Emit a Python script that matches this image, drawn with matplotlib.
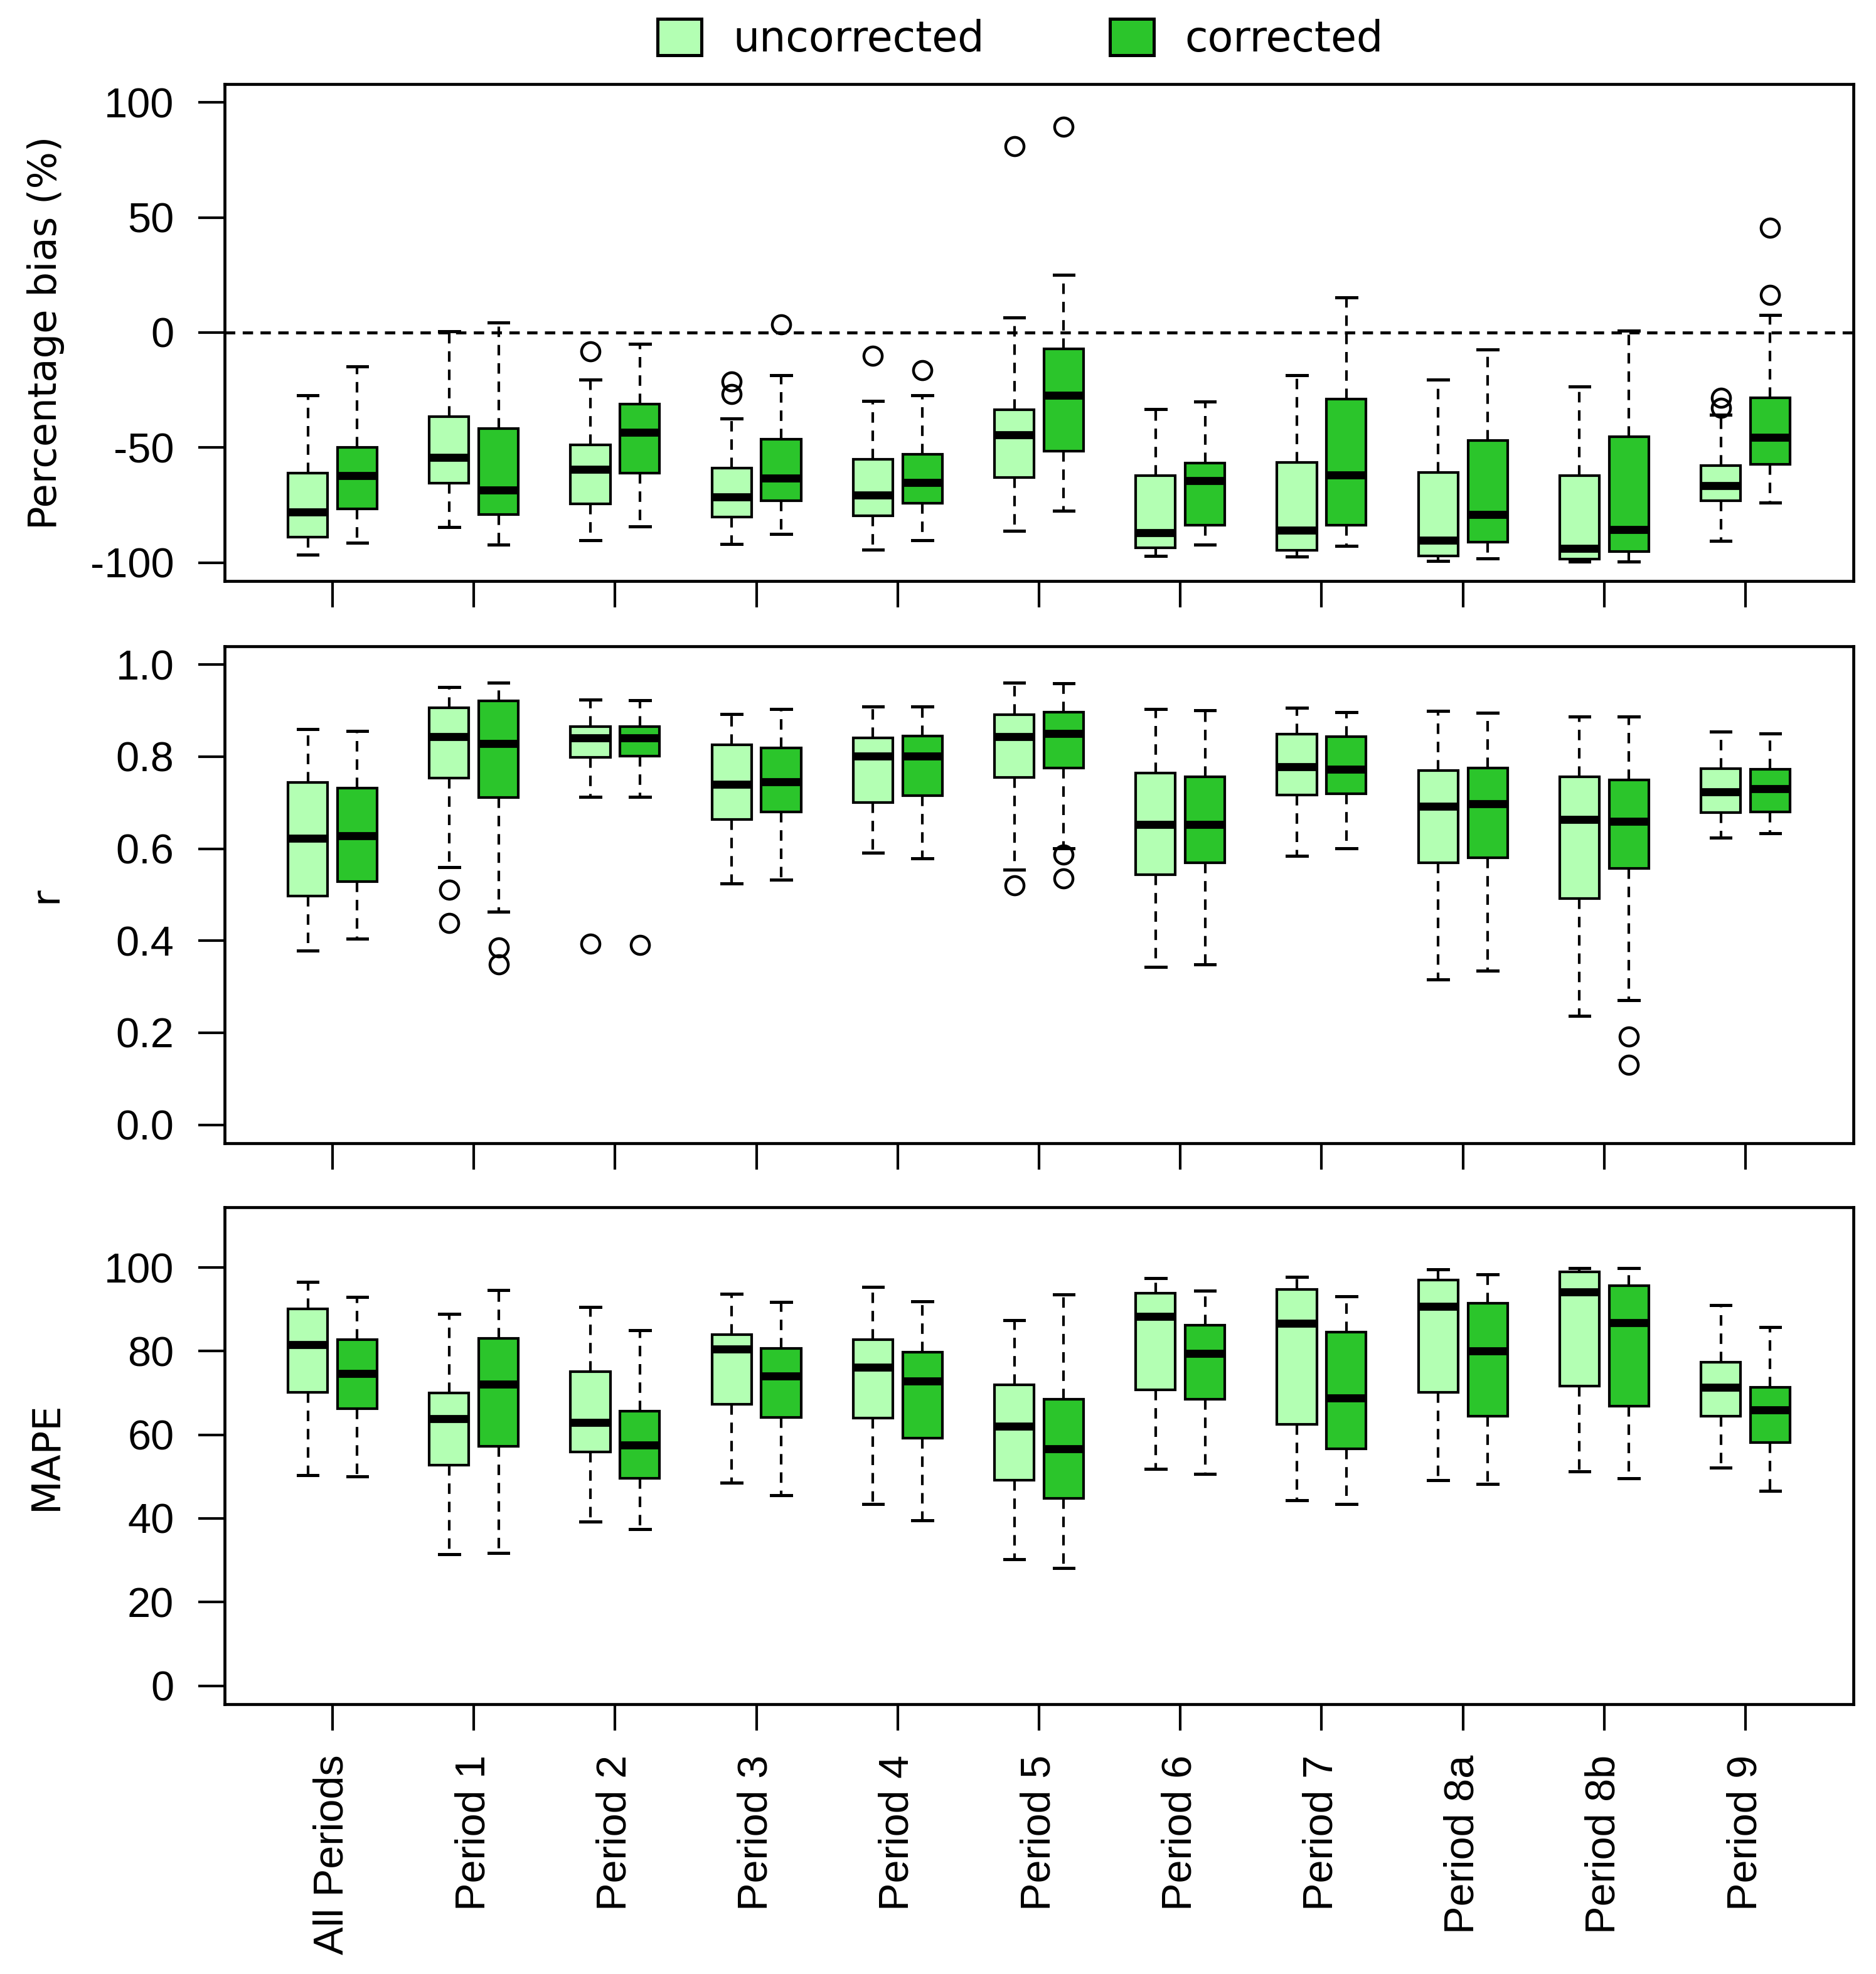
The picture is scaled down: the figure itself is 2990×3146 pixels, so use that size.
import matplotlib
matplotlib.use("Agg")
import matplotlib.pyplot as plt
from matplotlib.patches import Patch

plt.rcParams['axes.unicode_minus'] = False

# period names on the x axis
periods = ['All Periods', 'Period 1', 'Period 2', 'Period 3', 'Period 4', 'Period 5',
           'Period 6', 'Period 7', 'Period 8a', 'Period 8b', 'Period 9']

# five-number summaries per period: [whisker low, q1, median, q3, whisker high]
pbias_unc = [
    [-96.5, -88.9, -77.9, -61.1, -27.4],
    [-84.7, -65.4, -54.4, -36.7, 0.5],
    [-90.2, -74.5, -59.4, -48.8, -20.4],
    [-92.0, -80.1, -71.6, -59.0, -37.4],
    [-94.3, -79.8, -70.6, -55.0, -29.8],
    [-86.2, -62.9, -44.4, -33.5, 6.6],
    [-97.2, -93.6, -87.0, -62.2, -33.2],
    [-97.5, -94.6, -85.9, -56.5, -18.6],
    [-99.3, -97.1, -90.2, -60.8, -20.4],
    [-99.7, -98.5, -93.9, -62.2, -23.6],
    [-90.5, -73.2, -66.7, -57.9, -35.7],
]
pbias_unc_out = [[], [], [-8.3], [-21.3, -26.8], [-10.2], [81.1], [], [], [], [], [-28.4, -32.8]]

pbias_cor = [
    [-91.4, -76.7, -62.3, -49.9, -14.8],
    [-92.1, -79.0, -68.4, -41.8, 4.4],
    [-84.4, -61.1, -43.4, -31.1, -4.8],
    [-87.5, -73.1, -63.3, -46.3, -18.6],
    [-90.2, -74.2, -65.2, -52.8, -27.4],
    [-77.4, -51.7, -27.4, -7.0, 25.2],
    [-92.3, -83.7, -64.5, -56.8, -30.1],
    [-92.7, -83.7, -62.0, -28.8, 15.3],
    [-98.3, -91.0, -79.0, -46.9, -7.3],
    [-99.7, -95.3, -85.6, -45.4, 0.7],
    [-73.9, -57.2, -45.6, -28.4, 7.6],
]
pbias_cor_out = [[], [], [], [3.6], [-16.4], [89.5], [], [], [], [], [45.6, 16.4]]

r_unc = [
    [0.378, 0.497, 0.622, 0.744, 0.860],
    [0.560, 0.753, 0.843, 0.907, 0.951],
    [0.713, 0.799, 0.841, 0.865, 0.924],
    [0.524, 0.663, 0.740, 0.826, 0.893],
    [0.591, 0.701, 0.801, 0.841, 0.909],
    [0.554, 0.755, 0.844, 0.892, 0.961],
    [0.343, 0.543, 0.652, 0.765, 0.903],
    [0.585, 0.717, 0.778, 0.849, 0.907],
    [0.316, 0.570, 0.692, 0.770, 0.899],
    [0.236, 0.492, 0.663, 0.756, 0.887],
    [0.624, 0.678, 0.724, 0.774, 0.854],
]
r_unc_out = [[], [0.511, 0.439], [0.393], [], [], [0.520], [], [], [], [], []]

r_cor = [
    [0.405, 0.529, 0.628, 0.732, 0.856],
    [0.463, 0.711, 0.829, 0.921, 0.961],
    [0.713, 0.801, 0.841, 0.865, 0.923],
    [0.532, 0.680, 0.745, 0.819, 0.903],
    [0.579, 0.716, 0.801, 0.845, 0.909],
    [0.601, 0.775, 0.851, 0.897, 0.959],
    [0.349, 0.570, 0.652, 0.756, 0.901],
    [0.601, 0.720, 0.772, 0.843, 0.897],
    [0.335, 0.580, 0.698, 0.776, 0.896],
    [0.271, 0.557, 0.660, 0.749, 0.887],
    [0.634, 0.680, 0.731, 0.772, 0.851],
]
r_cor_out = [[], [0.385, 0.348], [0.391], [], [], [0.587, 0.535], [], [], [], [0.191, 0.130], []]

mape_unc = [
    [50.4, 70.2, 81.6, 90.1, 96.5],
    [31.4, 52.8, 63.8, 70.0, 88.9],
    [39.3, 55.9, 62.9, 75.1, 90.6],
    [48.6, 67.3, 80.5, 83.9, 93.7],
    [43.4, 64.0, 76.1, 82.7, 95.3],
    [30.3, 49.2, 62.1, 71.9, 87.4],
    [51.9, 70.8, 88.3, 93.8, 97.4],
    [44.4, 62.5, 86.7, 94.8, 97.7],
    [49.2, 70.1, 90.7, 97.0, 99.6],
    [51.3, 71.7, 94.2, 99.0, 99.9],
    [52.1, 64.4, 71.3, 77.3, 91.0],
]
mape_unc_out = [[] for _ in periods]

mape_cor = [
    [50.1, 66.2, 74.6, 82.7, 93.0],
    [31.8, 57.3, 72.1, 83.1, 94.6],
    [37.4, 49.6, 57.5, 65.6, 85.0],
    [45.6, 64.1, 74.1, 80.7, 91.8],
    [39.6, 59.2, 72.8, 79.7, 91.9],
    [28.1, 44.8, 56.7, 68.5, 93.6],
    [50.7, 68.5, 79.4, 86.2, 94.5],
    [43.4, 56.6, 68.8, 84.5, 93.1],
    [48.3, 64.5, 80.1, 91.5, 98.4],
    [49.6, 66.8, 86.8, 95.7, 99.9],
    [46.6, 58.1, 65.9, 71.3, 85.8],
]
mape_cor_out = [[] for _ in periods]

col_unc = '#b3ffb3'
col_cor = '#2bc52b'
tick_font = 'Liberation Sans'
label_font = 'DejaVu Sans'


def make_stats(summ, outs):
    stats = []
    for (lo, q1, med, q3, hi), fl in zip(summ, outs):
        stats.append(dict(whislo=lo, q1=q1, med=med, q3=q3, whishi=hi, fliers=fl))
    return stats


def draw_boxes(ax, summ, outs, offset, color):
    pos = [i + 1 + offset for i in range(len(summ))]
    ax.bxp(make_stats(summ, outs), positions=pos, widths=0.28, patch_artist=True,
           capwidths=0.14,
           boxprops=dict(facecolor=color, edgecolor='black', linewidth=1.5),
           medianprops=dict(color='black', linewidth=4.6, solid_capstyle='butt'),
           whiskerprops=dict(color='black', linewidth=1.5, linestyle=(0, (4, 3))),
           capprops=dict(color='black', linewidth=1.8),
           flierprops=dict(marker='o', markerfacecolor='none', markeredgecolor='black',
                           markersize=10.5, markeredgewidth=1.6))


def style_panel(ax, ylim, yticks, ylabels, ylabel):
    ax.set_xlim(0.236, 11.764)
    ax.set_ylim(*ylim)
    ax.set_yticks(yticks)
    ax.set_yticklabels(ylabels, family=tick_font, fontsize=24)
    ax.set_xticks(range(1, len(periods) + 1))
    for s in ax.spines.values():
        s.set_linewidth(1.7)
    ax.tick_params(axis='both', length=15, width=1.5, pad=14)
    ax.set_ylabel(ylabel, family=label_font, fontsize=22.5)
    ax.yaxis.set_label_coords(-0.098, 0.5)


fig = plt.figure(figsize=(14.95, 15.73), dpi=200)
ax1 = fig.add_axes([0.1197, 0.7057, 0.8683, 0.2517])
ax2 = fig.add_axes([0.1197, 0.4209, 0.8683, 0.2517])
ax3 = fig.add_axes([0.1197, 0.1367, 0.8683, 0.2517])

# percentage bias
ax1.axhline(0, color='black', linewidth=1.7, linestyle=(0, (3.5, 2.5)), zorder=0)
draw_boxes(ax1, pbias_unc, pbias_unc_out, -0.175, col_unc)
draw_boxes(ax1, pbias_cor, pbias_cor_out, 0.175, col_cor)
style_panel(ax1, (-108, 108), [-100, -50, 0, 50, 100],
            ['-100', '-50', '0', '50', '100'], 'Percentage bias (%)')
ax1.set_xticklabels([])

# correlation
draw_boxes(ax2, r_unc, r_unc_out, -0.175, col_unc)
draw_boxes(ax2, r_cor, r_cor_out, 0.175, col_cor)
style_panel(ax2, (-0.04, 1.04), [0, 0.2, 0.4, 0.6, 0.8, 1.0],
            ['0.0', '0.2', '0.4', '0.6', '0.8', '1.0'], 'r')
ax2.set_xticklabels([])

# MAPE
draw_boxes(ax3, mape_unc, mape_unc_out, -0.175, col_unc)
draw_boxes(ax3, mape_cor, mape_cor_out, 0.175, col_cor)
style_panel(ax3, (-4.4, 114.4), [0, 20, 40, 60, 80, 100],
            ['0', '20', '40', '60', '80', '100'], 'MAPE')
ax3.set_xticklabels(periods, rotation=90, family=tick_font, fontsize=24)

handles = [Patch(facecolor=col_unc, edgecolor='black', linewidth=1.8, label='uncorrected'),
           Patch(facecolor=col_cor, edgecolor='black', linewidth=1.8, label='corrected')]
fig.legend(handles=handles, loc='center', bbox_to_anchor=(0.544, 0.98), ncol=2,
           frameon=False, prop=dict(family=label_font, size=24),
           handlelength=1.05, handleheight=0.97, handletextpad=0.75, columnspacing=3.0)

fig.savefig('out.png', dpi=200)
